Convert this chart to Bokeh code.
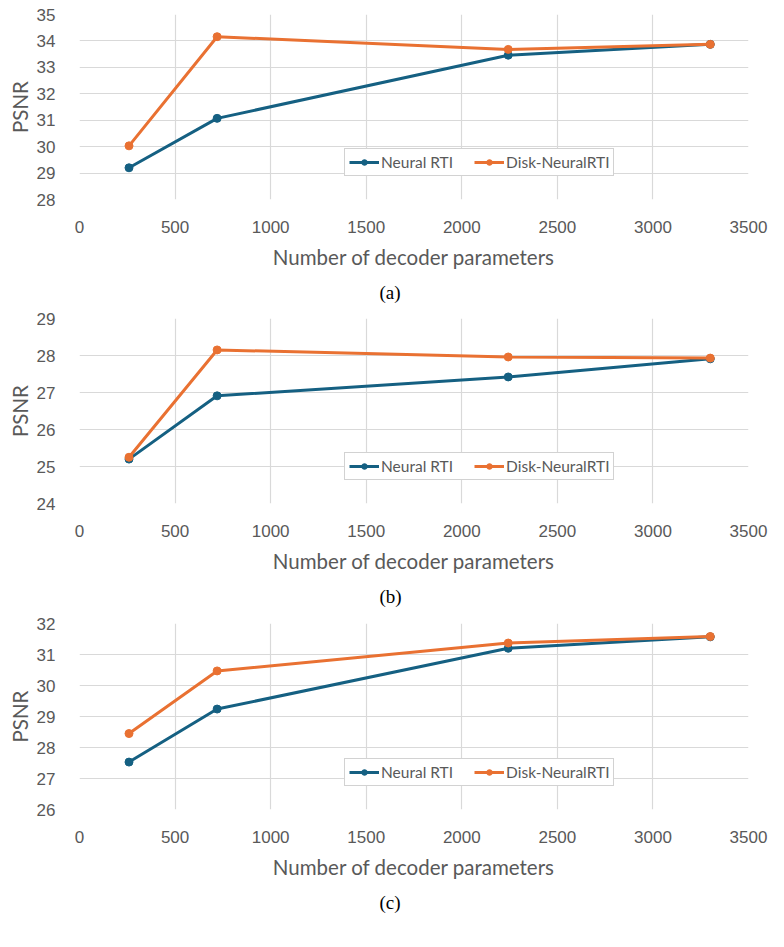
from bokeh.plotting import figure
from bokeh.layouts import column
from bokeh.models import FixedTicker, Legend, LegendItem, Title, Range1d
from bokeh.embed import file_html
from bokeh.resources import INLINE

# ---- data ----
params = [259, 720, 2243, 3300]
a_neural = [29.20, 31.07, 33.46, 33.87]
a_disk = [30.03, 34.16, 33.68, 33.87]
b_neural = [25.20, 26.91, 27.42, 27.91]
b_disk = [25.25, 28.15, 27.96, 27.93]
c_neural = [27.53, 29.24, 31.20, 31.57]
c_disk = [28.45, 30.47, 31.37, 31.58]
x_ticks = [0, 500, 1000, 1500, 2000, 2500, 3000, 3500]
a_yticks = [28, 29, 30, 31, 32, 33, 34, 35]
b_yticks = [24, 25, 26, 27, 28, 29]
c_yticks = [26, 27, 28, 29, 30, 31, 32]
captions = ["(a)", "(b)", "(c)"]
series_names = ["Neural RTI", "Disk-NeuralRTI"]

BLUE = "#156082"
ORANGE = "#E97132"
GRID = "#d9d9d9"
TXT = "#595959"
FRAME_H = 186


def make_chart(neural, disk, yticks, caption, height, top):
    p = figure(width=784, height=height, output_backend="svg", toolbar_location=None,
               x_range=Range1d(0, 3500), y_range=Range1d(yticks[0], yticks[-1]),
               min_border_left=79, min_border_right=36, min_border_top=top,
               min_border_bottom=height - top - FRAME_H)
    p.outline_line_color = None
    p.background_fill_color = "white"
    p.border_fill_color = "white"

    p.xaxis.ticker = FixedTicker(ticks=x_ticks)
    p.yaxis.ticker = FixedTicker(ticks=yticks)
    for ax in (p.xaxis[0], p.yaxis[0]):
        ax.axis_line_color = None
        ax.major_tick_line_color = None
        ax.minor_tick_line_color = None
        ax.major_label_text_font = "Liberation Sans"
        ax.major_label_text_font_size = "17px"
        ax.major_label_text_color = TXT
        ax.axis_label_text_font = "Lato"
        ax.axis_label_text_font_size = "20.5px"
        ax.axis_label_text_font_style = "normal"
        ax.axis_label_text_color = TXT
    p.xaxis.major_label_standoff = 15
    p.yaxis.major_label_standoff = 18
    p.xaxis.axis_label = "Number of decoder parameters"
    p.yaxis.axis_label = "PSNR"
    p.xaxis.axis_label_standoff = 9
    p.yaxis.axis_label_standoff = 2

    p.xgrid[0].ticker = FixedTicker(ticks=x_ticks)
    p.ygrid[0].ticker = FixedTicker(ticks=yticks)
    for g in (p.xgrid[0], p.ygrid[0]):
        g.grid_line_color = GRID
        g.grid_line_width = 1.2

    r1 = p.line(params, neural, line_color=BLUE, line_width=3)
    s1 = p.scatter(params, neural, size=8, fill_color=BLUE, line_color=BLUE)
    r2 = p.line(params, disk, line_color=ORANGE, line_width=3)
    s2 = p.scatter(params, disk, size=8, fill_color=ORANGE, line_color=ORANGE)

    legend = Legend(items=[LegendItem(label=series_names[0], renderers=[r1, s1]),
                           LegendItem(label=series_names[1], renderers=[r2, s2])],
                    orientation="horizontal", location=(265, 23))
    legend.border_line_color = "#a6a6a6"
    legend.border_line_width = 1.2
    legend.background_fill_color = "white"
    legend.background_fill_alpha = 1
    legend.padding = 4
    legend.margin = 0
    legend.spacing = 21
    legend.glyph_width = 30
    legend.glyph_height = 14
    legend.label_height = 14
    legend.label_standoff = 2
    legend.label_text_font = "Lato"
    legend.label_text_font_size = "15.5px"
    legend.label_text_color = TXT
    p.add_layout(legend, "center")

    t = Title(text=caption, align="left", offset=300, text_font="Liberation Serif",
              text_font_size="19px", text_font_style="normal", text_color="black",
              standoff=16)
    p.add_layout(t, "below")
    return p


p1 = make_chart(a_neural, a_disk, a_yticks, captions[0], 310, 14)
p2 = make_chart(b_neural, b_disk, b_yticks, captions[1], 304, 8)
p3 = make_chart(c_neural, c_disk, c_yticks, captions[2], 330, 9)
p = column(p1, p2, p3, spacing=0)

open("out.html", "w").write(file_html(p, INLINE))
